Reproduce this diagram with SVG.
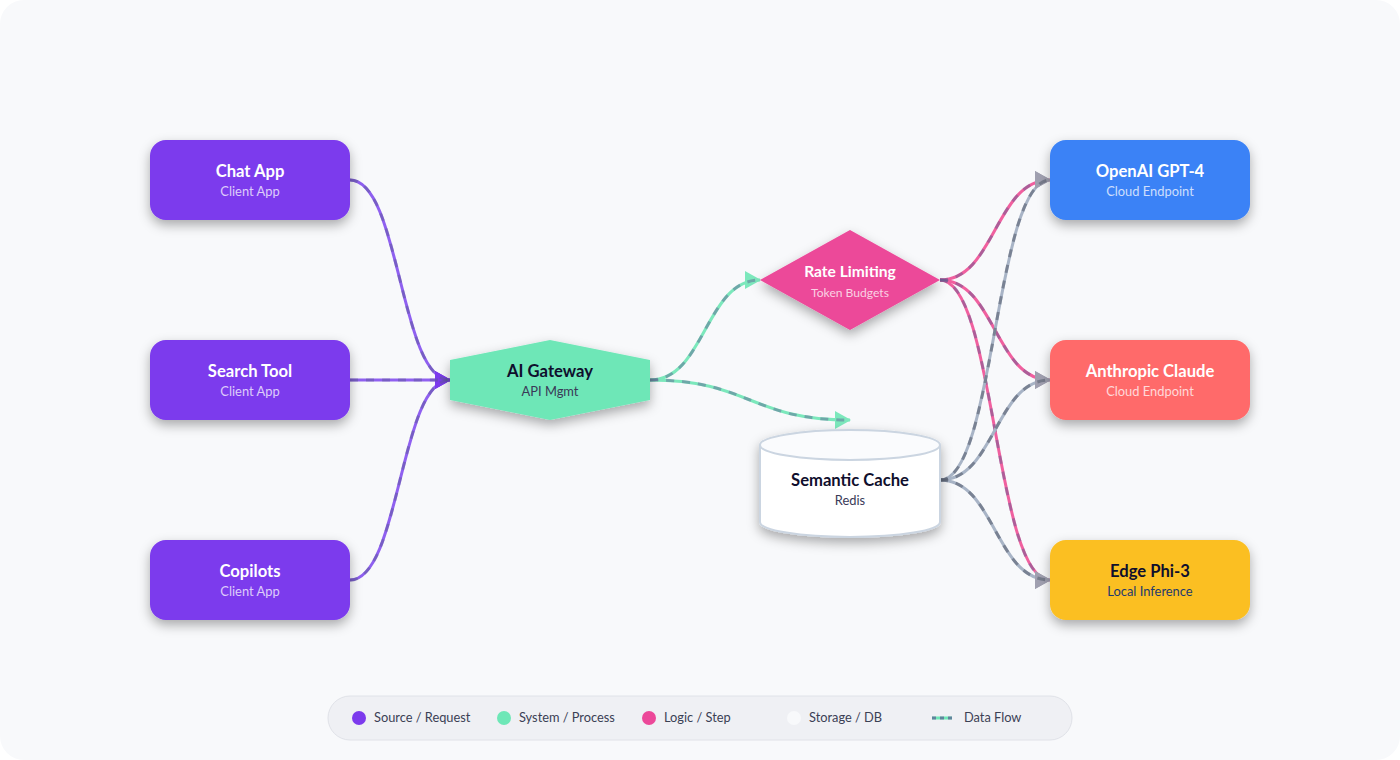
<svg xmlns="http://www.w3.org/2000/svg" width="1400" height="760" viewBox="0 0 1400 760">
<style>
text{font-family:"Lato","Noto Sans","Liberation Sans",sans-serif;text-anchor:middle}
.t{font-size:16.6px;font-weight:700;fill:#fff}
.s{font-size:12.9px;fill:#fff;fill-opacity:.75}
.rt{font-size:15.6px}
.rs{font-size:12.1px}
.td{font-size:16.6px;font-weight:700;fill:#0f0f2d}
.sd{font-size:12.9px;fill:#3a3a58}
.l{font-size:12.8px;fill:#3b4054;text-anchor:start}
.b{fill:none;stroke-width:3}
.d{fill:none;stroke:#5a5a90;stroke-opacity:.45;stroke-width:3;stroke-dasharray:8 8}
.g{fill:none;stroke:#5f6778;stroke-opacity:.65;stroke-width:3;stroke-dasharray:8 8}
.sh{filter:url(#sh)}
</style>
<defs>
<filter id="sh" x="-30%" y="-30%" width="160%" height="170%"><feDropShadow dx="0" dy="5" stdDeviation="6" flood-color="#000" flood-opacity=".32"/></filter>
<marker id="ap" viewBox="0 0 16 18" markerUnits="userSpaceOnUse" markerWidth="16" markerHeight="18" refX="15" refY="9" orient="auto"><path d="M0 0L16 9L0 18Z" fill="#7c3aed"/></marker>
<marker id="at" viewBox="0 0 16 18" markerUnits="userSpaceOnUse" markerWidth="16" markerHeight="18" refX="15" refY="9" orient="auto"><path d="M0 0L16 9L0 18Z" fill="#7ce8bc"/></marker>
<marker id="ag" viewBox="0 0 16 18" markerUnits="userSpaceOnUse" markerWidth="16" markerHeight="18" refX="15" refY="9" orient="auto"><path d="M0 0L16 9L0 18Z" fill="#a0a0b0"/></marker>
</defs>
<rect width="1400" height="760" fill="#fff"/>
<rect width="1400" height="760" rx="24" fill="#f8f9fb"/>
<g id="connectors">
<path class="b" stroke="#8f60f0" marker-end="url(#ap)" d="M350 180C400 180 400 380 450 380"/>
<path class="b" stroke="#8f60f0" marker-end="url(#ap)" d="M350 380C400 380 400 380 450 380"/>
<path class="b" stroke="#8f60f0" marker-end="url(#ap)" d="M350 580C400 580 400 380 450 380"/>
<path class="b" stroke="#7ce8bc" marker-end="url(#at)" d="M650 380C705 380 705 280 760 280"/>
<path class="b" stroke="#7ce8bc" marker-end="url(#at)" d="M650 380C750 380 750 420 850 420"/>
<path class="b" stroke="#f0609f" marker-end="url(#ag)" d="M940 280C995 280 995 180 1050 180"/>
<path class="b" stroke="#f0609f" marker-end="url(#ag)" d="M940 280C995 280 995 380 1050 380"/>
<path class="b" stroke="#f0609f" marker-end="url(#ag)" d="M940 280C995 280 995 580 1050 580"/>
<path class="d" d="M350 180C400 180 400 380 450 380"/>
<path class="d" d="M350 380C400 380 400 380 450 380"/>
<path class="d" d="M350 580C400 580 400 380 450 380"/>
<path class="d" d="M650 380C705 380 705 280 760 280"/>
<path class="d" d="M650 380C750 380 750 420 850 420"/>
<path class="d" d="M940 280C995 280 995 180 1050 180"/>
<path class="d" d="M940 280C995 280 995 380 1050 380"/>
<path class="d" d="M940 280C995 280 995 580 1050 580"/>
<path class="b" stroke="#a8b4c6" marker-end="url(#ag)" d="M940 480C995 480 995 180 1050 180"/>
<path class="b" stroke="#a8b4c6" marker-end="url(#ag)" d="M940 480C995 480 995 380 1050 380"/>
<path class="b" stroke="#a8b4c6" marker-end="url(#ag)" d="M940 480C995 480 995 580 1050 580"/>
<path class="g" d="M940 480C995 480 995 180 1050 180"/>
<path class="g" d="M940 480C995 480 995 380 1050 380"/>
<path class="g" d="M940 480C995 480 995 580 1050 580"/>
</g>
<g id="chat"><rect class="sh" x="150" y="140" width="200" height="80" rx="16" fill="#7c3aed"/><text class="t" x="250" y="176.5">Chat App</text><text class="s" x="250" y="196">Client App</text></g>
<g id="search"><rect class="sh" x="150" y="340" width="200" height="80" rx="16" fill="#7c3aed"/><text class="t" x="250" y="376.5">Search Tool</text><text class="s" x="250" y="396">Client App</text></g>
<g id="copilots"><rect class="sh" x="150" y="540" width="200" height="80" rx="16" fill="#7c3aed"/><text class="t" x="250" y="576.5">Copilots</text><text class="s" x="250" y="596">Client App</text></g>
<g id="gateway"><path class="sh" d="M450 360L550 340L650 360V400L550 420L450 400Z" fill="#6ee7b7"/><text class="td" x="550" y="376.5">AI Gateway</text><text class="sd" x="550" y="396">API Mgmt</text></g>
<g id="rate"><path class="sh" d="M850 230L940 280L850 330L760 280Z" fill="#ec4899"/><text class="t rt" x="850" y="276.5">Rate Limiting</text><text class="s rs" x="850" y="297">Token Budgets</text></g>
<g id="cache"><g class="sh"><path d="M760 445V522A90 15 0 0 0 940 522V445" fill="#fff" stroke="#cbd5e1" stroke-width="2"/><ellipse cx="850" cy="445" rx="90" ry="15" fill="#fafbfd" stroke="#cbd5e1" stroke-width="2"/></g><text class="td" x="850" y="485.5">Semantic Cache</text><text class="sd" x="850" y="505">Redis</text></g>
<g id="openai"><rect class="sh" x="1050" y="140" width="200" height="80" rx="16" fill="#3b82f6"/><text class="t" x="1150" y="176.5">OpenAI GPT-4</text><text class="s" x="1150" y="196">Cloud Endpoint</text></g>
<g id="claude"><rect class="sh" x="1050" y="340" width="200" height="80" rx="16" fill="#ff6b6b"/><text class="t" x="1150" y="376.5">Anthropic Claude</text><text class="s" x="1150" y="396">Cloud Endpoint</text></g>
<g id="edge"><rect class="sh" x="1050" y="540" width="200" height="80" rx="16" fill="#fbbf24"/><text class="td" x="1150" y="576.5">Edge Phi-3</text><text class="sd" x="1150" y="596" style="fill:#1e3a6e">Local Inference</text></g>
<g id="legend">
<rect x="328" y="696" width="744" height="44" rx="22" fill="#eff0f4" stroke="#e0e2e8"/>
<circle cx="359" cy="718" r="7" fill="#7c3aed"/><text class="l" x="374" y="722">Source / Request</text>
<circle cx="504" cy="718" r="7" fill="#6ee7b7"/><text class="l" x="519" y="722">System / Process</text>
<circle cx="649" cy="718" r="7" fill="#ec4899"/><text class="l" x="664" y="722">Logic / Step</text>
<circle cx="794" cy="718" r="7" fill="#f8f9fb"/><text class="l" x="809" y="722">Storage / DB</text>
<path d="M932 718H952" stroke="#6ee7b7" stroke-width="3"/><path d="M932 718H952" stroke="#5a5a90" stroke-opacity=".7" stroke-width="3" stroke-dasharray="4 4"/><text class="l" x="964" y="722">Data Flow</text>
</g>
</svg>
